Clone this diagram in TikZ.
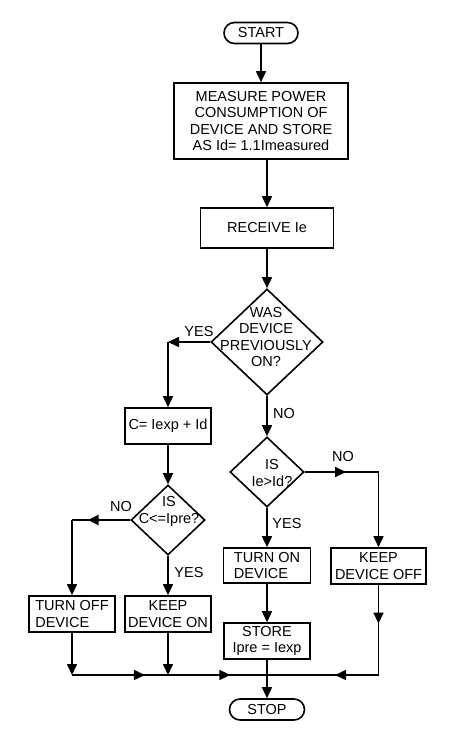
\documentclass[tikz,border=0pt]{standalone}
\usepackage{fontspec}
\setmainfont{Liberation Sans}
\usetikzlibrary{shapes.geometric,arrows.meta,decorations.markings}
\begin{document}
\begin{tikzpicture}[x=1pt,y=-1pt,
  every node/.style={font=\fontsize{14.5}{16.5}\selectfont, inner sep=0pt},
  box/.style={draw, line width=1.6pt, align=center},
  lbox/.style={draw, line width=1.6pt, align=left},
  term/.style={draw, line width=1.6pt, rounded corners=10.5pt},
  dec/.style={draw, diamond, line width=1.6pt},
  tipk/.tip={Triangle[length=11pt,width=10pt]},
  conn/.style={line width=1.6pt, -{tipk}},
  plain/.style={line width=1.6pt},
  midarr/.style={postaction={decorate}, decoration={markings, mark=at position #1 with {\arrow{tipk}}}}
]
\useasboundingbox (0,0) rectangle (474,738);
\fill[white] (0,0) rectangle (474,738);

% nodes
\node[term, minimum width=74pt, minimum height=21pt] (start) at (261,33) {START};
\node[box, minimum width=174pt, minimum height=76pt] (meas) at (261,121) {MEASURE POWER\\CONSUMPTION OF\\DEVICE AND STORE\\AS Id= 1.1Imeasured};
\node[box, minimum width=133pt, minimum height=40pt] (rec) at (267,228) {RECEIVE Ie};
\node[dec, minimum width=112pt, minimum height=106pt] (d1) at (267,342) {};
\node[align=center] (d1t) at (266,337) {WAS\\DEVICE\\PREVIOUSLY\\ON?};
\node[box, minimum width=86pt, minimum height=36pt] (cbox) at (168,426) {C= Iexp + Id};
\node[dec, minimum width=74pt, minimum height=70pt] (d2) at (267,472) {};
\node[align=center] (d2t) at (272,473) {IS\\Ie>Id?};
\node[dec, minimum width=74pt, minimum height=70pt] (d3) at (168,520) {};
\node[align=center] (d3t) at (169,511.5) {IS\\C<=Ipre?};
\node[lbox, minimum width=87pt, minimum height=35pt] (ton) at (267,565.5) {TURN ON\\DEVICE};
\node[box, minimum width=95pt, minimum height=36pt] (koff) at (378.5,566) {KEEP\\DEVICE OFF};
\node[lbox, minimum width=86pt, minimum height=36pt] (toff) at (72,614) {TURN OFF\\DEVICE};
\node[box, minimum width=86pt, minimum height=36pt] (kon) at (168,614) {KEEP\\DEVICE ON};
\node[box, minimum width=86pt, minimum height=36pt] (store) at (267,641) {STORE\\Ipre = Iexp};
\node[term, minimum width=75pt, minimum height=21pt] (stop) at (267,709.5) {STOP};

% labels
\node (y1) at (199,332) {YES};
\node (n1) at (284,414) {NO};
\node (n2) at (343,457) {NO};
\node (y2) at (287,524) {YES};
\node (n3) at (121,507) {NO};
\node (y3) at (189,573) {YES};

% coordinates
\coordinate (cy) at (cbox.north |- d1.west);
\coordinate (kn) at (koff.north |- d2.east);
\coordinate (tn) at (toff.north |- d3.west);
\coordinate (j1) at (72,675);
\coordinate (j2) at (168,675);
\coordinate (j3) at (267,675);
\coordinate (k1) at (378.5,675);

% connectors
\draw[conn] (start) -- (meas);
\draw[conn] (meas.south -| rec.north) -- (rec.north);
\draw[conn] (rec) -- (d1);
\draw[conn] (d1) -- (d2);
\draw[conn] (d1.west) -- (cy);
\draw[conn] (cy) -- (cbox.north);
\draw[conn] (cbox) -- (d3);
\draw[plain, midarr=0.56] (d2.east) -- (kn);
\draw[conn] (kn) -- (koff.north);
\draw[conn] (d2) -- (ton);
\draw[plain, midarr=0.73] (d3.west) -- (tn);
\draw[conn] (tn) -- (toff.north);
\draw[conn] (d3) -- (kon);
\draw[conn] (ton) -- (store);
\draw[conn] (store) -- (stop);
\draw[conn] (toff) -- (j1);
\draw[conn] (kon) -- (j2);
\draw[plain, midarr=0.76] (j1) -- (j2);
\draw[plain, midarr=0.63] (j2) -- (j3);
\draw[plain, midarr=0.43] (koff) -- (k1);
\draw[plain, midarr=0.39] (k1) -- (j3);
\end{tikzpicture}
\end{document}
